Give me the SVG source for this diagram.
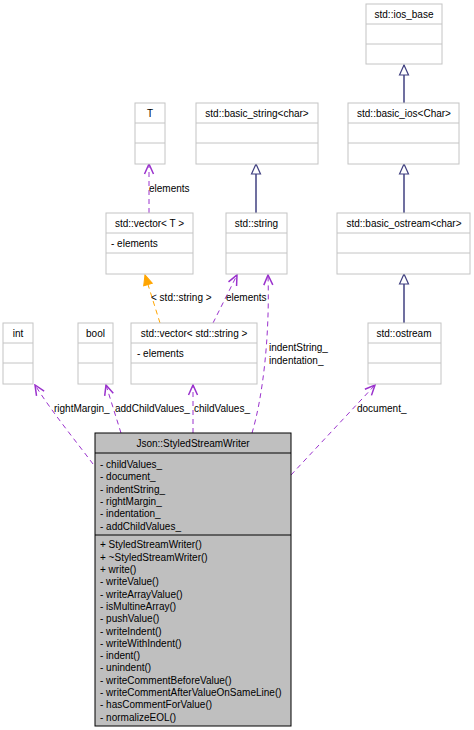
<svg xmlns="http://www.w3.org/2000/svg" width="474" height="730" viewBox="0 0 474 730">
<style>
  text { font-family: "Liberation Sans", Arial, sans-serif; font-size: 10px; fill: #000; }
  .c { text-anchor: middle; }
  .box { fill: #fff; stroke: #c4c4c4; stroke-width: 1; }
  .sep { stroke: #c4c4c4; stroke-width: 1; }
  .main { fill: #bfbfbf; stroke: #000; stroke-width: 1; }
  .msep { stroke: #000; stroke-width: 1; }
  .inh { stroke: #404080; stroke-width: 1.5; fill: none; }
  .use { stroke: #9a32cd; stroke-width: 1; stroke-dasharray: 5,4; fill: none; }
  .tpl { stroke: #ffa500; stroke-width: 1; stroke-dasharray: 5,4; fill: none; }
</style>
<defs>
  <marker id="tri" markerUnits="userSpaceOnUse" markerWidth="12" markerHeight="12" viewBox="0 0 12 12" refX="11" refY="6" orient="auto">
    <path d="M1,1.5 L11,6 L1,10.5 Z" fill="#fff" stroke="#404080" stroke-width="1.2"/>
  </marker>
  <marker id="vee" markerUnits="userSpaceOnUse" markerWidth="12" markerHeight="12" viewBox="0 0 12 12" refX="11" refY="6" orient="auto">
    <path d="M1,1.5 L11,6 L1,10.5" fill="none" stroke="#9a32cd" stroke-width="1.5"/>
  </marker>
  <marker id="ftri" markerUnits="userSpaceOnUse" markerWidth="12" markerHeight="12" viewBox="0 0 12 12" refX="11" refY="6" orient="auto">
    <path d="M1,1.5 L11,6 L1,10.5 Z" fill="#ffa500" stroke="#ffa500" stroke-width="1"/>
  </marker>
</defs>

<g id="connectors">
  <path class="inh" d="M404,103 L404,65" marker-end="url(#tri)"/>
  <path class="inh" d="M404,213 L404,164" marker-end="url(#tri)"/>
  <path class="inh" d="M404,323 L404,274" marker-end="url(#tri)"/>
  <path class="inh" d="M256,213 L256,164" marker-end="url(#tri)"/>
  <path class="use" d="M149,213 L149,164" marker-end="url(#vee)"/>
  <text x="149" y="192">elements</text>
  <path class="tpl" d="M160,323 L145,275" marker-end="url(#ftri)"/>
  <text x="151" y="301">&lt; std::string &gt;</text>
  <path class="use" d="M213,323 L237,275" marker-end="url(#vee)"/>
  <text x="226" y="301">elements</text>
  <path class="use" d="M252,433 C262,400 270,340 268,275" marker-end="url(#vee)"/>
  <text x="269" y="351">indentString_</text>
  <text x="269" y="364">indentation_</text>
  <path class="use" d="M291,475 L375,385" marker-end="url(#vee)"/>
  <text x="357" y="412">document_</text>
  <path class="use" d="M93,464 C75,440 52,412 35,385" marker-end="url(#vee)"/>
  <text x="54" y="412">rightMargin_</text>
  <path class="use" d="M121,433 L106,385" marker-end="url(#vee)"/>
  <text x="115" y="412">addChildValues_</text>
  <path class="use" d="M193,433 L193,385" marker-end="url(#vee)"/>
  <text x="194" y="412">childValues_</text>
</g>

<g id="ios_base">
  <rect class="box" x="366" y="4" width="76" height="60"/>
  <line class="sep" x1="366" y1="24" x2="442" y2="24"/>
  <line class="sep" x1="366" y1="44" x2="442" y2="44"/>
  <text class="c" x="404" y="18">std::ios_base</text>
</g>
<g id="basic_ios">
  <rect class="box" x="348" y="103" width="111" height="61"/>
  <line class="sep" x1="348" y1="123" x2="459" y2="123"/>
  <line class="sep" x1="348" y1="143" x2="459" y2="143"/>
  <text class="c" x="404" y="117">std::basic_ios&lt;Char&gt;</text>
</g>
<g id="basic_ostream">
  <rect class="box" x="337" y="213" width="133" height="61"/>
  <line class="sep" x1="337" y1="233" x2="470" y2="233"/>
  <line class="sep" x1="337" y1="253" x2="470" y2="253"/>
  <text class="c" x="404" y="227">std::basic_ostream&lt;char&gt;</text>
</g>
<g id="ostream">
  <rect class="box" x="368" y="323" width="73" height="61"/>
  <line class="sep" x1="368" y1="343" x2="441" y2="343"/>
  <line class="sep" x1="368" y1="363" x2="441" y2="363"/>
  <text class="c" x="404" y="337">std::ostream</text>
</g>
<g id="T">
  <rect class="box" x="135" y="103" width="30" height="61"/>
  <line class="sep" x1="135" y1="123" x2="165" y2="123"/>
  <line class="sep" x1="135" y1="143" x2="165" y2="143"/>
  <text class="c" x="150" y="117">T</text>
</g>
<g id="basic_string">
  <rect class="box" x="196" y="103" width="122" height="61"/>
  <line class="sep" x1="196" y1="123" x2="318" y2="123"/>
  <line class="sep" x1="196" y1="143" x2="318" y2="143"/>
  <text class="c" x="257" y="117">std::basic_string&lt;char&gt;</text>
</g>
<g id="vector_T">
  <rect class="box" x="106" y="213" width="87" height="61"/>
  <line class="sep" x1="106" y1="233" x2="193" y2="233"/>
  <line class="sep" x1="106" y1="253" x2="193" y2="253"/>
  <text class="c" x="149.5" y="227">std::vector&lt; T &gt;</text>
  <text x="111" y="247">- elements</text>
</g>
<g id="string">
  <rect class="box" x="226" y="213" width="61" height="61"/>
  <line class="sep" x1="226" y1="233" x2="287" y2="233"/>
  <line class="sep" x1="226" y1="253" x2="287" y2="253"/>
  <text class="c" x="256.5" y="227">std::string</text>
</g>
<g id="int">
  <rect class="box" x="3" y="323" width="30" height="61"/>
  <line class="sep" x1="3" y1="343" x2="33" y2="343"/>
  <line class="sep" x1="3" y1="363" x2="33" y2="363"/>
  <text class="c" x="18" y="337">int</text>
</g>
<g id="bool">
  <rect class="box" x="78" y="323" width="35" height="61"/>
  <line class="sep" x1="78" y1="343" x2="113" y2="343"/>
  <line class="sep" x1="78" y1="363" x2="113" y2="363"/>
  <text class="c" x="95.5" y="337">bool</text>
</g>
<g id="vector_string">
  <rect class="box" x="131" y="323" width="126" height="61"/>
  <line class="sep" x1="131" y1="343" x2="257" y2="343"/>
  <line class="sep" x1="131" y1="363" x2="257" y2="363"/>
  <text class="c" x="194" y="337">std::vector&lt; std::string &gt;</text>
  <text x="137" y="357">- elements</text>
</g>
<g id="StyledStreamWriter">
  <rect class="main" x="95" y="433" width="196" height="293"/>
  <line class="msep" x1="95" y1="453" x2="291" y2="453"/>
  <line class="msep" x1="95" y1="535" x2="291" y2="535"/>
  <text class="c" x="193" y="447">Json::StyledStreamWriter</text>
  <text x="100" y="468">- childValues_</text>
  <text x="100" y="480.3">- document_</text>
  <text x="100" y="492.6">- indentString_</text>
  <text x="100" y="504.9">- rightMargin_</text>
  <text x="100" y="517.2">- indentation_</text>
  <text x="100" y="529.5">- addChildValues_</text>
  <text x="100" y="548.4">+ StyledStreamWriter()</text>
  <text x="100" y="560.7">+ ~StyledStreamWriter()</text>
  <text x="100" y="573">+ write()</text>
  <text x="100" y="585.3">- writeValue()</text>
  <text x="100" y="597.6">- writeArrayValue()</text>
  <text x="100" y="609.9">- isMultineArray()</text>
  <text x="100" y="622.2">- pushValue()</text>
  <text x="100" y="634.5">- writeIndent()</text>
  <text x="100" y="646.8">- writeWithIndent()</text>
  <text x="100" y="659.1">- indent()</text>
  <text x="100" y="671.4">- unindent()</text>
  <text x="100" y="683.7">- writeCommentBeforeValue()</text>
  <text x="100" y="696">- writeCommentAfterValueOnSameLine()</text>
  <text x="100" y="708.3">- hasCommentForValue()</text>
  <text x="100" y="720.6">- normalizeEOL()</text>
</g>
</svg>
